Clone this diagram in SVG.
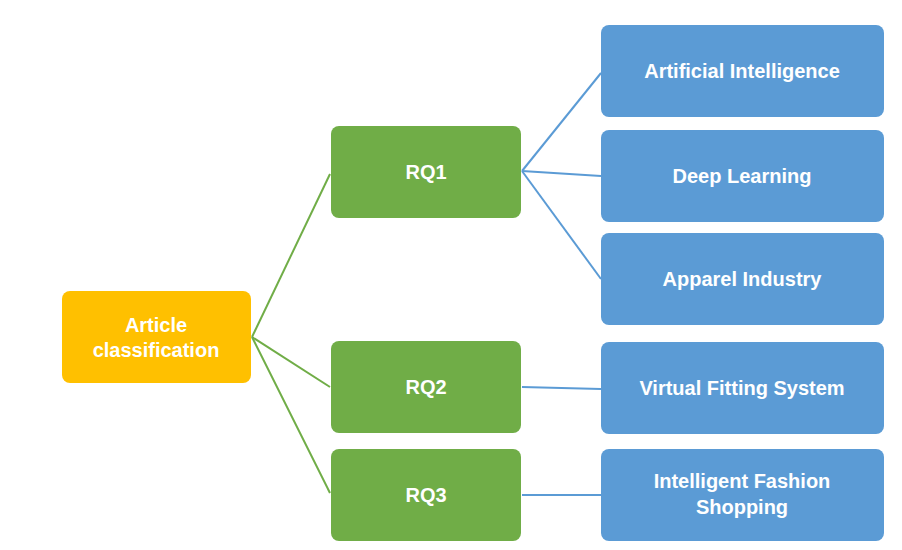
<svg xmlns="http://www.w3.org/2000/svg" width="902" height="550" viewBox="0 0 902 550">
<style>
.o{fill:#FFC000}
.g{fill:#70AD47}
.b{fill:#5B9BD5}
.t{font-family:"Liberation Sans",Arial,sans-serif;font-weight:bold;font-size:20px;fill:#fff;text-anchor:middle}
.lg{stroke:#70AD47;stroke-width:2;fill:none}
.lb{stroke:#5B9BD5;stroke-width:2;fill:none}
</style>
<rect width="902" height="550" fill="#fff"/>
<g id="connectors">
<line class="lg" x1="252" y1="337" x2="330" y2="174"/>
<line class="lg" x1="252" y1="337" x2="330" y2="387"/>
<line class="lg" x1="252" y1="337" x2="330" y2="493"/>
<line class="lb" x1="522" y1="171" x2="601" y2="73"/>
<line class="lb" x1="522" y1="171" x2="601" y2="176"/>
<line class="lb" x1="522" y1="171" x2="601" y2="279"/>
<line class="lb" x1="522" y1="387" x2="601" y2="389"/>
<line class="lb" x1="522" y1="495" x2="601" y2="495"/>
</g>
<g id="article"><rect class="o" x="62" y="291" width="189" height="92" rx="8"/><text class="t" x="156" y="332">Article</text><text class="t" x="156" y="357">classification</text></g>
<g id="rq1"><rect class="g" x="331" y="126" width="190" height="92" rx="8"/><text class="t" x="426" y="179">RQ1</text></g>
<g id="rq2"><rect class="g" x="331" y="341" width="190" height="92" rx="8"/><text class="t" x="426" y="394">RQ2</text></g>
<g id="rq3"><rect class="g" x="331" y="449" width="190" height="92" rx="8"/><text class="t" x="426" y="502">RQ3</text></g>
<g id="ai"><rect class="b" x="601" y="25" width="283" height="92" rx="8"/><text class="t" x="742" y="78">Artificial Intelligence</text></g>
<g id="dl"><rect class="b" x="601" y="130" width="283" height="92" rx="8"/><text class="t" x="742" y="183">Deep Learning</text></g>
<g id="apparel"><rect class="b" x="601" y="233" width="283" height="92" rx="8"/><text class="t" x="742" y="286">Apparel Industry</text></g>
<g id="vfs"><rect class="b" x="601" y="342" width="283" height="92" rx="8"/><text class="t" x="742" y="395">Virtual Fitting System</text></g>
<g id="ifs"><rect class="b" x="601" y="449" width="283" height="92" rx="8"/><text class="t" x="742" y="488">Intelligent Fashion</text><text class="t" x="742" y="514">Shopping</text></g>
</svg>
